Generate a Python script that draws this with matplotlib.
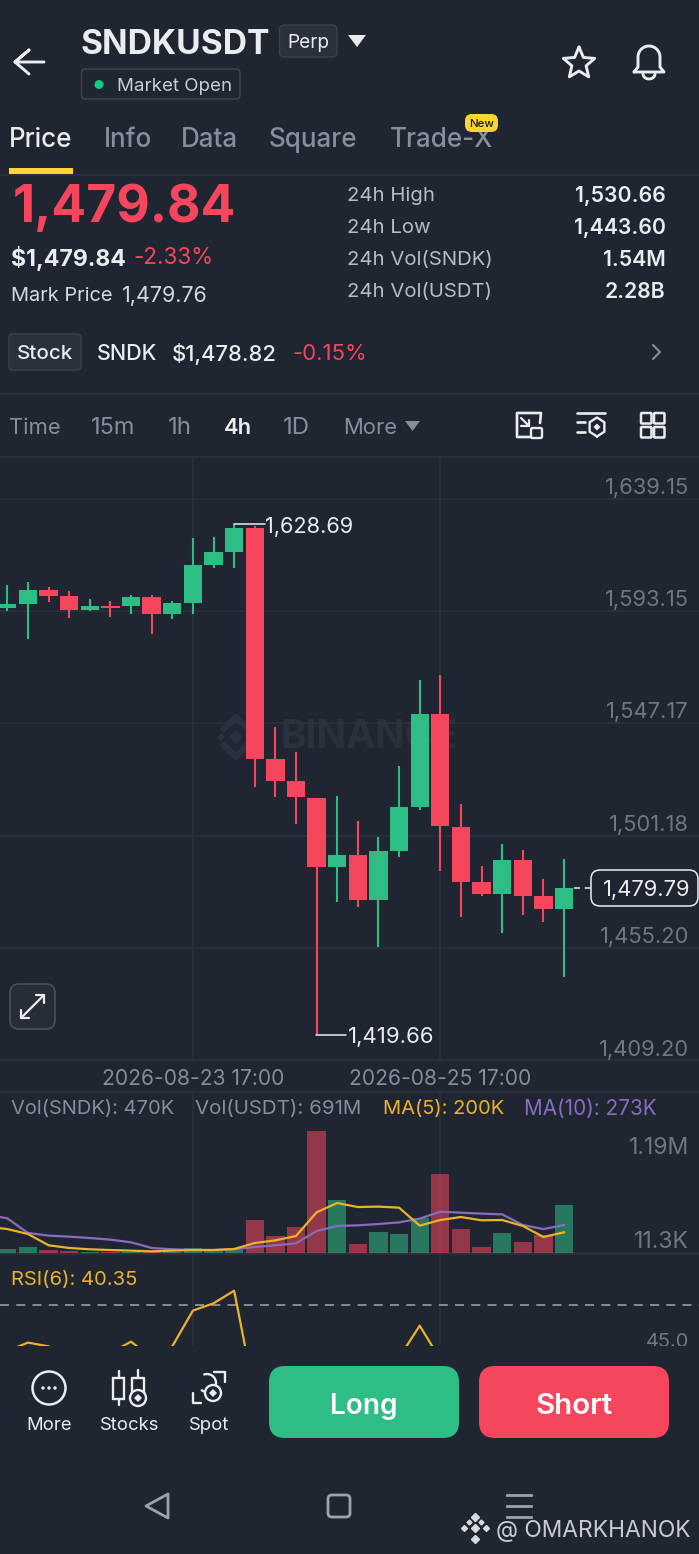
import numpy as np
import matplotlib
matplotlib.use('Agg')
import matplotlib.pyplot as plt
from matplotlib.patches import FancyBboxPatch, Rectangle, Circle, Polygon

plt.rcParams['font.family'] = ['Inter', 'DejaVu Sans']

# 4h candles
opens = [1594.26, 1596.14, 1601.62, 1599.29, 1593.68, 1595.20, 1595.07, 1598.76, 1592.04, 1596.55,
         1612.10, 1617.42, 1627.00, 1532.57, 1523.57, 1516.73, 1488.48, 1493.27, 1475.00, 1494.91,
         1512.92, 1551.00, 1504.86, 1482.22, 1477.31, 1491.23, 1476.49, 1471.17]
closes = [1596.14, 1601.62, 1599.41, 1593.68, 1595.07, 1594.38, 1598.76, 1592.04, 1596.55, 1612.10,
          1617.30, 1627.00, 1532.57, 1523.57, 1516.89, 1488.48, 1493.27, 1475.00, 1494.91, 1512.92,
          1551.00, 1505.02, 1482.22, 1477.31, 1491.23, 1476.61, 1471.17, 1479.79]
highs = [1603.79, 1604.90, 1602.97, 1601.34, 1597.94, 1597.24, 1599.58, 1599.82, 1597.12, 1623.15,
         1623.32, 1628.69, 1628.07, 1545.67, 1535.31, 1516.73, 1517.30, 1507.07, 1500.77, 1529.83,
         1564.91, 1566.95, 1514.15, 1488.77, 1497.90, 1495.44, 1483.33, 1491.64]
lows = [1593.27, 1581.69, 1596.96, 1590.28, 1593.15, 1590.69, 1592.04, 1583.86, 1589.88, 1591.80,
        1610.87, 1610.75, 1521.11, 1517.01, 1505.84, 1419.66, 1474.16, 1472.11, 1455.74, 1492.33,
        1511.69, 1486.85, 1468.02, 1476.49, 1461.47, 1468.71, 1466.00, 1443.46]

# volume in thousands
volumes = [39, 62, 26, 19, 8, 9, 11.3, 10, 12, 45, 15, 25, 318, 165, 253, 1187, 513, 88,
           204, 182, 337, 769, 234, 58, 195, 107, 172, 470]
ma5 = [256, 233, 185, 75, 49, 36, 29, 23, 16, 23, 29, 29, 39, 97, 123, 165, 396, 486, 447,
       451, 441, 266, 321, 350, 318, 321, 263, 156, 201]
ma10 = [375, 337, 195, 169, 159, 146, 130, 104, 49, 36, 29, 29, 36, 58, 75, 94, 214, 263, 269,
        282, 298, 334, 402, 392, 383, 376, 272, 233, 272]

rsi = [45.5, 50, 48, 42, 44, 44.5, 50.5, 42, 48, 67, 70.9, 77.6, 22, 22, 20, 18, 22, 20, 28,
       42, 59, 41, 30, 28, 35, 32, 30, 40.35]

price_ticks = [1639.15, 1593.15, 1547.17, 1501.18, 1455.20, 1409.20]
date_labels = ['2026-08-23 17:00', '2026-08-25 17:00']
date_idx = [9, 21]

stats_names = ['24h High', '24h Low', '24h Vol(SNDK)', '24h Vol(USDT)']
stats_vals = ['1,530.66', '1,443.60', '1.54M', '2.28B']

BG = '#1f2631'
GRID = '#2c333f'
GREEN = '#2ebd85'
RED = '#f6465d'
WHITE = '#eaecef'
GRAY = '#848e9c'
AXIS = '#6f7783'
YEL = '#ecb32a'
PUR = '#8a6cbf'
MARK = '#2a313d'

W, H = 699, 1554
STEP = 20.62    # px between candles
X0 = 7.3        # px of first candle

fig = plt.figure(figsize=(W / 100, H / 100), dpi=100, facecolor=BG)

# watermark goes underneath the candles
wm = fig.add_axes([0, 0, 1, 1])
wm.set_xlim(0, W)
wm.set_ylim(H, 0)
wm.axis('off')
wm.text(369, 738, 'BINANCE', fontsize=28, fontweight='bold', color=MARK, ha='center', va='center')
wm.plot([224, 236, 248], [729, 717, 729], color=MARK, lw=4.5)
wm.plot([224, 236, 248], [745, 757, 745], color=MARK, lw=4.5)
wm.add_patch(Polygon([[236, 730], [243, 737], [236, 744], [229, 737]], fc=MARK))
wm.add_patch(Polygon([[221, 733], [225, 737], [221, 741], [217, 737]], fc=MARK))


def pane(top, bottom):
    a = fig.add_axes([0, 1 - bottom / H, 1, (bottom - top) / H])
    a.patch.set_alpha(0)
    a.axis('off')
    # same candle spacing in every pane
    a.set_xlim(-X0 / STEP, (W - X0) / STEP)
    return a


idx = np.arange(len(opens))
up = np.array(closes) >= np.array(opens)
cols = [GREEN if u else RED for u in up]

# price pane
ax = pane(457, 1061)
ax.set_ylim(1408.95, 1656.19)
for p in price_ticks:
    ax.axhline(p, color=GRID, lw=1.1, zorder=1)
    ax.annotate(f'{p:,.2f}', (33.06, p), xytext=(0, 7.8), textcoords='offset points',
                ha='right', va='center', color=AXIS, fontsize=15.8)
for d in date_idx:
    ax.axvline(d, color=GRID, lw=1.1, zorder=1)
ax.vlines(idx, lows, highs, colors=cols, lw=1.5, zorder=3)
ax.bar(idx, np.array(closes) - np.array(opens), bottom=opens, width=0.89, color=cols, zorder=3)

# volume pane
vax = pane(1092, 1253)
vax.set_ylim(0, 1566)
for d in date_idx:
    vax.axvline(d, color=GRID, lw=1.1, zorder=1)
vax.axhline(0, color=GRID, lw=1.8, zorder=1, clip_on=False)
vax.bar(idx, volumes, width=0.89, color=cols, alpha=0.55, zorder=2)
xma = np.arange(-1, len(opens))
vax.plot(xma, ma10, color=PUR, lw=1.6, zorder=3)
vax.plot(xma, ma5, color=YEL, lw=1.6, zorder=4)

# rsi pane, runs under the bottom bar
rax = pane(1253, 1346)
rax.set_ylim(70 - (1346 - 1305) / 1.88, 70 + (1305 - 1253) / 1.88)
for d in date_idx:
    rax.axvline(d, color=GRID, lw=1.1, zorder=1)
rax.axhline(70, color='#8f949c', lw=1.3, dashes=(5, 4), zorder=2)
rax.plot(idx, rsi, color=YEL, lw=1.6, zorder=3)

# everything else in pixel coordinates
ui = fig.add_axes([0, 0, 1, 1])
ui.set_xlim(0, W)
ui.set_ylim(H, 0)
ui.axis('off')
ui.patch.set_alpha(0)


def txt(x, y, s, size, color=WHITE, weight='normal', ha='left', z=10):
    return ui.text(x, y, s, fontsize=size * 0.72, color=color, fontweight=weight,
                   ha=ha, va='center_baseline', zorder=z)


def box(x0, y0, x1, y1, r, fc='none', ec='none', lw=1.0, z=8):
    ui.add_patch(FancyBboxPatch((x0 + r, y0 + r), x1 - x0 - 2 * r, y1 - y0 - 2 * r,
                                boxstyle=f'round,pad={r}', fc=fc, ec=ec, lw=lw, zorder=z))


def stroke(xs, ys, lw=1.8, color=WHITE, z=9):
    ui.plot(xs, ys, color=color, lw=lw, solid_capstyle='round', solid_joinstyle='round', zorder=z)


def hline(y):
    ui.plot([0, W], [y, y], color=GRID, lw=1.1, zorder=2)


hline(174.5)
hline(394)
hline(457)
hline(1092)

# header
stroke([44, 15, 29, 15, 29], [62, 62, 50, 62, 74], lw=2.1)
txt(81, 41, 'SNDKUSDT', 33.6, weight='bold')
box(279.5, 25, 337, 57, 5, fc='#2a313d', ec='#3a424e')
txt(308, 41, 'Perp', 19, ha='center')
ui.add_patch(Polygon([[348, 35], [366, 35], [357, 47]], fc=WHITE, zorder=9))
box(81.5, 69, 240, 99, 4, ec='#39414d', lw=1.2)
ui.add_patch(Circle((99, 84.5), 4.5, fc='#0ecb81', zorder=9))
txt(117, 84.5, 'Market Open', 18.7, color='#c9ced6')

ang = np.linspace(-np.pi / 2, 3 * np.pi / 2, 11)
rad = np.where(np.arange(11) % 2 == 0, 16.5, 7.5)
stroke(579 + rad * np.cos(ang), 63.5 + rad * np.sin(ang), lw=2.1)
th = np.linspace(np.pi, 2 * np.pi, 20)
stroke(np.r_[634, 638, 649 + 11 * np.cos(th), 660, 664, 634],
       np.r_[72, 67, 57 + 11 * np.sin(th), 67, 72, 72], lw=2.1)
th2 = np.linspace(0, np.pi, 12)
stroke(649 + 6 * np.cos(th2), 74 + 5 * np.sin(th2), lw=2.1)

# tabs
for x, s, c in [(9, 'Price', WHITE), (104, 'Info', GRAY), (181, 'Data', GRAY),
                (269, 'Square', GRAY), (390, 'Trade-X', GRAY)]:
    txt(x, 137, s, 26, color=c, weight='medium')
ui.add_patch(Rectangle((9, 168), 64, 6, fc='#fcd535', zorder=9))
box(465, 114, 498, 132, 7, fc='#fcd535', z=11)
txt(481.5, 123, 'New', 11.5, color='#181a20', ha='center', weight='medium', z=12)

# price block
txt(13, 203, '1,479.84', 51.6, color=RED, weight='bold')
txt(11, 256, '$1,479.84', 23.1, weight='bold')
txt(133, 256, '-2.33%', 22.4, color=RED)
txt(11, 294, 'Mark Price', 20, color='#d5d9df')
txt(122, 294, '1,479.76', 21.5, color='#d5d9df')
for y, n, v in zip([194, 226, 258, 290], stats_names, stats_vals):
    txt(347, y, n, 20.3, color='#b7bdc6')
    txt(666, y, v, 21.2, weight='semibold', ha='right')

# stock row
box(9, 334, 81, 370, 4, fc='#2a313d', ec='#3a424e')
txt(45, 352, 'Stock', 20.5, ha='center', weight='medium')
txt(97, 352, 'SNDK', 21.5, weight='medium')
txt(172, 352, '$1,478.82', 22, weight='medium')
txt(292, 352, '-0.15%', 22.2, color=RED)
stroke([653, 660, 653], [345, 352, 359], lw=1.5, color=GRAY)

# interval row
for x, s, c, w, sz in [(9, 'Time', GRAY, 'normal', 22), (91, '15m', GRAY, 'normal', 23.5),
                       (168, '1h', GRAY, 'normal', 24), (224, '4h', WHITE, 'semibold', 22),
                       (283, '1D', GRAY, 'normal', 24), (343, 'More', GRAY, 'normal', 22)]:
    txt(x, 426, s, sz, color=c, weight=w)
ui.add_patch(Polygon([[405, 421], [420, 421], [412.5, 431]], fc=GRAY, zorder=9))

# toolbar icons
stroke([540, 541, 541, 517, 517, 541, 541], [423, 413, 413, 413, 437, 437, 437], lw=1.9)
stroke([521, 529], [418, 426], lw=1.6)
stroke([521, 529, 529], [426, 426, 420], lw=1.6)
box(531, 428, 542, 438, 1.5, fc=BG, ec=WHITE, lw=1.7, z=9)
stroke([577, 605], [413, 413], lw=1.9)
stroke([577, 585], [422, 422], lw=1.9)
stroke([577, 585], [432, 432], lw=1.9)
hx = 597 + 8.5 * np.cos(np.pi / 2 + np.arange(7) * np.pi / 3)
hy = 427 + 9.5 * np.sin(np.pi / 2 + np.arange(7) * np.pi / 3)
stroke(hx, hy, lw=1.7)
ui.add_patch(Polygon([[597, 423.5], [600.5, 427], [597, 430.5], [593.5, 427]], fc=WHITE, zorder=9))
for bx, by in [(641, 413), (654, 413), (641, 427), (654, 427)]:
    box(bx, by, bx + 10.5, by + 10.5, 1, ec=WHITE, lw=1.8, z=9)

# chart annotations
txt(265, 525, '1,628.69', 21.8)
stroke([234, 265], [524, 524], lw=1.1)
txt(348, 1035, '1,419.66', 22.2)
stroke([316, 346], [1035, 1035], lw=1.1)
box(591, 870, 698, 906, 9, fc=BG, ec=WHITE, lw=1.1)
txt(646.5, 888, '1,479.79', 22, ha='center')
ui.plot([574, 591], [888, 888], color=WHITE, lw=1.1, ls=(0, (4, 3)), zorder=9)
box(10, 984, 55, 1029, 9, fc='#262d38', ec='#4a515c', lw=1.2)
stroke([21, 44], [1018, 995], lw=1.6)
stroke([21, 21, 29], [1010, 1018, 1018], lw=1.6)
stroke([36, 44, 44], [995, 995, 1003], lw=1.6)

# date labels and pane legends
for d, s in zip(date_idx, date_labels):
    txt(X0 + STEP * d, 1077, s, 21, color=GRAY, ha='center')
txt(11, 1107, 'Vol(SNDK): 470K', 20.1, color=GRAY)
txt(195, 1107, 'Vol(USDT): 691M', 20.5, color=GRAY)
txt(383, 1107, 'MA(5): 200K', 20.1, color=YEL)
txt(524, 1107, 'MA(10): 273K', 20.7, color=PUR)
txt(689, 1145, '1.19M', 23, color=AXIS, ha='right')
txt(689, 1240, '11.3K', 23, color=AXIS, ha='right')
txt(11, 1278, 'RSI(6): 40.35', 20.2, color=YEL)
txt(689, 1340, '45.0', 20, color=AXIS, ha='right')

# bottom bar hides the rest of the rsi pane
ui.add_patch(Rectangle((0, 1346), W, H - 1346, fc=BG, ec='none', zorder=11))

box(269, 1366, 459, 1438, 16, fc=GREEN, z=12)
box(479, 1366, 669, 1438, 16, fc=RED, z=12)
txt(364, 1403, 'Long', 28, weight='semibold', ha='center', color='white', z=13)
txt(574, 1403, 'Short', 29.5, weight='semibold', ha='center', color='white', z=13)
txt(49, 1423, 'More', 18.5, ha='center', z=13)
txt(130, 1423, 'Stocks', 18.5, ha='center', z=13)
txt(209.5, 1423, 'Spot', 18.5, ha='center', z=13)

ui.add_patch(Circle((49, 1388), 16.5, fc='none', ec=WHITE, lw=1.8, zorder=13))
for dx in (-6, 0, 6):
    ui.add_patch(Circle((49 + dx, 1388), 1.7, fc=WHITE, zorder=13))
# stocks icon
ui.add_patch(Rectangle((113, 1378), 11, 21, fc='none', ec=WHITE, lw=1.7, zorder=13))
stroke([118.5, 118.5], [1371, 1378], lw=1.7, z=13)
stroke([118.5, 118.5], [1399, 1405], lw=1.7, z=13)
stroke([132, 132, 144, 144], [1396, 1378, 1378, 1394], lw=1.7, z=13)
stroke([138, 138], [1370, 1378], lw=1.7, z=13)
ui.add_patch(Circle((138, 1398), 8, fc=BG, ec=WHITE, lw=1.7, zorder=13))
ui.add_patch(Polygon([[138, 1394], [142, 1398], [138, 1402], [134, 1398]], fc=WHITE, zorder=14))
# spot icon
th3 = np.linspace(np.pi * 0.4, np.pi * 1.7, 20)
stroke(207 + 9 * np.cos(th3) * -1, 1383 + 9 * np.sin(th3) * -1, lw=1.7, z=13)
stroke([214, 225, 225], [1372, 1372, 1382], lw=1.7, z=13)
stroke([193, 193, 201], [1393, 1403, 1403], lw=1.7, z=13)
ui.add_patch(Circle((213, 1393), 8, fc=BG, ec=WHITE, lw=1.7, zorder=13))
ui.add_patch(Polygon([[213, 1389], [217, 1393], [213, 1397], [209, 1393]], fc=WHITE, zorder=14))

# android nav buttons
NAV = '#9ea3aa'
ui.add_patch(Polygon([[168, 1494], [168, 1518], [146, 1506]], fc='none', ec=NAV, lw=2, joinstyle='round', zorder=13))
box(328, 1495, 350, 1517, 4, ec=NAV, lw=2, z=13)
for y in (1495, 1506, 1517):
    ui.plot([507, 531], [y, y], color=NAV, lw=2, zorder=13)

# repost watermark
for dx, dy, s in [(0, -11, 4.5), (-11, 0, 3), (11, 0, 3), (0, 11, 4.5), (0, 0, 4.5), (-6, -6, 2.5), (6, -6, 2.5)]:
    ui.plot(475 + dx, 1528 + dy, marker='D', ms=s, color='#d8dade', zorder=14)
txt(496, 1528, '@ OMARKHANOK', 22.8, color='#c8ccd2', z=14)

fig.savefig('out.png', dpi=100, facecolor=BG)
